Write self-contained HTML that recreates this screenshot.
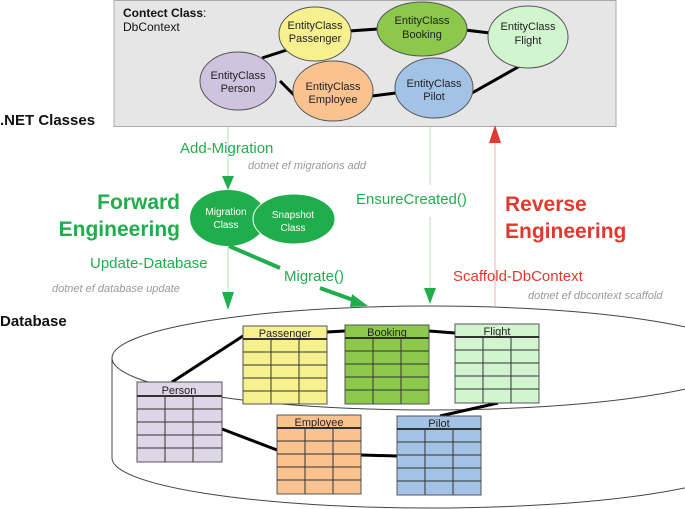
<!DOCTYPE html>
<html><head><meta charset="utf-8"><style>
html,body{margin:0;padding:0;background:#fff;}
svg{display:block;font-family:"Liberation Sans",sans-serif;}
</style></head><body>
<svg width="685" height="509" viewBox="0 0 685 509" xmlns="http://www.w3.org/2000/svg">
<defs>
<g id="grid">
</g>
</defs>
<!-- top box -->
<rect x="114" y="0.5" width="502" height="126" fill="#e6e6e6" stroke="#aaa" stroke-width="1"/>
<text x="123" y="17" font-size="12" font-weight="bold" fill="#111">Contect Class<tspan font-weight="normal">:</tspan></text>
<text x="123" y="31" font-size="12" fill="#111">DbContext</text>
<g stroke="#000" stroke-width="3">
<line x1="262" y1="58" x2="293" y2="48"/>
<line x1="349" y1="31" x2="378" y2="29"/>
<line x1="465" y1="30" x2="490" y2="33"/>
<line x1="280" y1="81" x2="294" y2="95"/>
<line x1="372" y1="96" x2="396" y2="93"/>
<line x1="472" y1="93" x2="527" y2="62"/>
</g>
<g stroke="#555" stroke-width="1" font-size="11" text-anchor="middle" fill="#222">
<ellipse cx="315" cy="34" rx="36" ry="27" fill="#f7f08f"/>
<ellipse cx="422" cy="29" rx="45" ry="27" fill="#8cc84b"/>
<ellipse cx="528" cy="37" rx="40" ry="31" fill="#d2f4cf"/>
<ellipse cx="238" cy="81" rx="38" ry="29" fill="#cfc3e0"/>
<ellipse cx="333" cy="91" rx="40" ry="30" fill="#f9c28f"/>
<ellipse cx="434" cy="88" rx="39" ry="30" fill="#a3c3e6"/>
</g>
<g font-size="11" text-anchor="middle" fill="#222">
<text x="315" y="29">EntityClass</text><text x="315" y="42">Passenger</text>
<text x="422" y="24">EntityClass</text><text x="422" y="38">Booking</text>
<text x="528" y="30">EntityClass</text><text x="528" y="44">Flight</text>
<text x="238" y="79">EntityClass</text><text x="238" y="92">Person</text>
<text x="333" y="90">EntityClass</text><text x="333" y="103">Employee</text>
<text x="434" y="87">EntityClass</text><text x="434" y="100">Pilot</text>
</g>
<text x="0" y="125" font-size="15" font-weight="bold" fill="#111">.NET Classes</text>
<text x="0" y="326" font-size="15" font-weight="bold" fill="#111">Database</text>

<!-- thin connector lines -->
<g stroke="#b8e0c4" stroke-width="1">
<line x1="228" y1="127" x2="228" y2="180"/>
<line x1="228" y1="246" x2="228" y2="295"/>
<line x1="430" y1="127" x2="430" y2="185"/>
<line x1="430" y1="217" x2="430" y2="290"/>
</g>
<line x1="495" y1="306" x2="495" y2="140" stroke="#f0b0b0" stroke-width="1"/>
<g fill="#1fae4b">
<polygon points="222,176 234,176 228,190"/>
<polygon points="222,292 234,292 228,310"/>
<polygon points="424,288 436,288 430,304"/>
</g>
<polygon points="489,143 501,143 495,125" fill="#e03a2e"/>

<!-- migration ellipses -->
<ellipse cx="228" cy="218" rx="38" ry="28" fill="#1fae4b"/>
<ellipse cx="294" cy="219" rx="41" ry="25" fill="#1fae4b" stroke="#fff" stroke-width="1"/>
<g font-size="10" fill="#fff" text-anchor="middle">
<text x="226" y="215">Migration</text><text x="226" y="228">Class</text>
<text x="293" y="218">Snapshot</text><text x="293" y="231">Class</text>
</g>
<g stroke="#1fae4b" stroke-width="4">
<line x1="229" y1="246" x2="280" y2="268"/>
<line x1="320" y1="288" x2="356" y2="301"/>
</g>
<polygon points="352,294 368,306 350,307" fill="#1fae4b"/>

<g fill="#1fae4b">
<text x="180" y="153" font-size="15">Add-Migration</text>
<text x="180" y="209" font-size="21" font-weight="bold" text-anchor="end">Forward</text>
<text x="180" y="236" font-size="21" font-weight="bold" text-anchor="end">Engineering</text>
<text x="356" y="204" font-size="15">EnsureCreated()</text>
<text x="90" y="268" font-size="15">Update-Database</text>
<text x="284" y="281" font-size="15">Migrate()</text>
</g>
<g fill="#e03a2e">
<text x="505" y="211" font-size="21" font-weight="bold">Reverse</text>
<text x="505" y="238" font-size="21" font-weight="bold">Engineering</text>
<text x="453" y="281" font-size="15">Scaffold-DbContext</text>
</g>
<g fill="#999" font-size="11" font-style="italic">
<text x="248" y="169">dotnet ef migrations add</text>
<text x="52" y="292">dotnet ef database update</text>
<text x="528" y="299">dotnet ef dbcontext scaffold</text>
</g>

<!-- cylinder -->
<path d="M112,358 L112,458 A318,50 0 0 0 748,458 L748,358" fill="#fff" stroke="#444" stroke-width="1"/>
<ellipse cx="430" cy="358" rx="318" ry="52" fill="#fff" stroke="#444" stroke-width="1"/>

<!-- table links -->
<g stroke="#000" stroke-width="3">
<line x1="172" y1="382" x2="243" y2="336"/>
<line x1="327" y1="332" x2="345" y2="331"/>
<line x1="429" y1="331" x2="455" y2="333"/>
<line x1="498" y1="403" x2="440" y2="416"/>
<line x1="222" y1="429" x2="277" y2="450"/>
<line x1="361" y1="455" x2="397" y2="456"/>
</g>

<!-- tables -->
<g stroke="#555" stroke-width="1" font-size="11" text-anchor="middle" fill="#222">
<g transform="translate(243,326)">
<rect width="84" height="78" fill="#f7f08f"/><line x1="0" y1="13" x2="84" y2="13" stroke="#333" stroke-width="2"/>
<path d="M0,26H84M0,39H84M0,52H84M0,65H84M28,13V78M56,13V78" fill="none" stroke="#333"/>
<text x="42" y="11" stroke="none">Passenger</text></g>
<g transform="translate(345,325)">
<rect width="84" height="79" fill="#8cc84b"/><line x1="0" y1="13" x2="84" y2="13" stroke="#333" stroke-width="2"/>
<path d="M0,26H84M0,39H84M0,52H84M0,65H84M28,13V79M56,13V79" fill="none" stroke="#333"/>
<text x="42" y="11" stroke="none">Booking</text></g>
<g transform="translate(455,324)">
<rect width="84" height="79" fill="#d2f4cf"/><line x1="0" y1="13" x2="84" y2="13" stroke="#333" stroke-width="2"/>
<path d="M0,26H84M0,39H84M0,52H84M0,65H84M28,13V79M56,13V79" fill="none" stroke="#333"/>
<text x="42" y="11" stroke="none">Flight</text></g>
<g transform="translate(137,382)">
<rect width="85" height="80" fill="#dcd6e6"/><line x1="0" y1="14" x2="85" y2="14" stroke="#333" stroke-width="2"/>
<path d="M0,27H85M0,40H85M0,53H85M0,66H85M28,14V80M56,14V80" fill="none" stroke="#333"/>
<text x="42" y="12" stroke="none">Person</text></g>
<g transform="translate(277,415)">
<rect width="84" height="79" fill="#f9c28f"/><line x1="0" y1="13" x2="84" y2="13" stroke="#333" stroke-width="2"/>
<path d="M0,26H84M0,39H84M0,52H84M0,65H84M28,13V79M56,13V79" fill="none" stroke="#333"/>
<text x="42" y="11" stroke="none">Employee</text></g>
<g transform="translate(397,416)">
<rect width="84" height="79" fill="#a3c3e6"/><line x1="0" y1="13" x2="84" y2="13" stroke="#333" stroke-width="2"/>
<path d="M0,26H84M0,39H84M0,52H84M0,65H84M28,13V79M56,13V79" fill="none" stroke="#333"/>
<text x="42" y="11" stroke="none">Pilot</text></g>
</g>
</svg>
</body></html>
